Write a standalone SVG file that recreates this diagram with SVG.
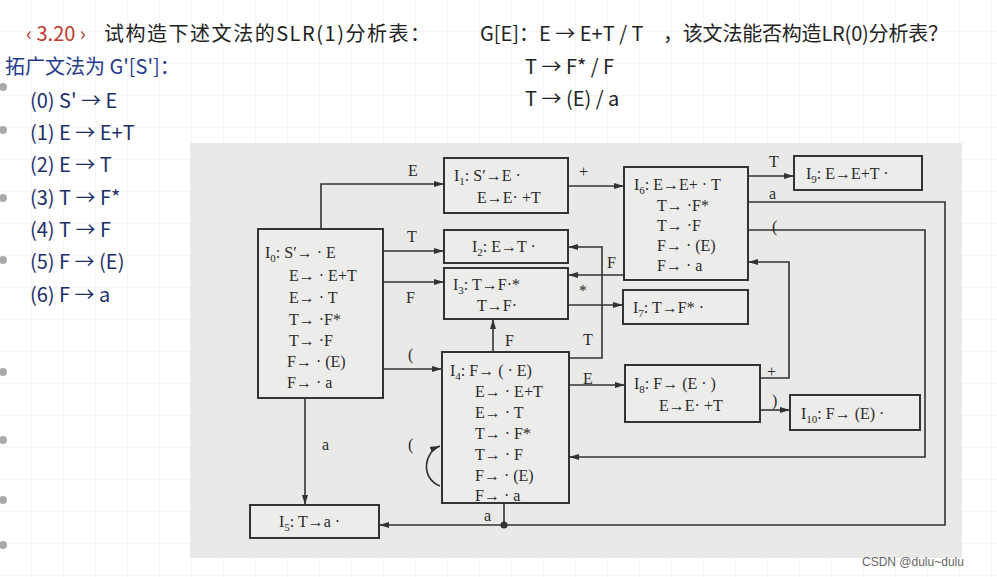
<svg xmlns="http://www.w3.org/2000/svg" width="997" height="577" viewBox="0 0 997 577">
<defs>
<pattern id="grid" width="32" height="32" patternUnits="userSpaceOnUse"><path d="M32 0V32M0 32H32" fill="none" stroke="#ececf0" stroke-width="1"/></pattern>
<marker id="ar" viewBox="0 0 10 6" refX="10" refY="3" markerWidth="10" markerHeight="6" orient="auto" markerUnits="userSpaceOnUse"><path d="M0 0L10 3L0 6Z" fill="#333"/></marker>
</defs>
<style>
.hw{font-family:"Noto Sans CJK SC","Noto Sans",sans-serif;font-size:20px}
.bx rect{fill:#ececea;stroke:#333;stroke-width:2}
.bx text,.lb{font-family:"Liberation Serif",serif;font-size:16px;fill:#2a2a2a}
.cn path{fill:none;stroke:#333;stroke-width:1.6}
</style>
<rect width="997" height="577" fill="#fff"/>
<rect width="997" height="577" fill="url(#grid)"/>
<g fill="#aaa"><circle cx="3" cy="87" r="4"/><circle cx="3" cy="130" r="4"/><circle cx="3" cy="198" r="4"/><circle cx="3" cy="260" r="4"/><circle cx="3" cy="372" r="4"/><circle cx="3" cy="440" r="4"/><circle cx="3" cy="500" r="4"/><circle cx="3" cy="545" r="4"/></g>
<text class="hw" x="26" y="41" fill="#c0392b" font-size="18">‹ 3.20 ›</text>
<text class="hw" x="104" y="41" fill="#222" textLength="326" lengthAdjust="spacing">试构造下述文法的SLR(1)分析表：</text>
<text class="hw" x="480" y="41" fill="#222">G[E]：E → E+T / T</text>
<text class="hw" x="663" y="41" fill="#222" textLength="285" lengthAdjust="spacing">，该文法能否构造LR(0)分析表？</text>
<text class="hw" x="5" y="74" fill="#1f3c8c">拓广文法为 G'[S']：</text>
<text class="hw" x="525" y="74" fill="#222">T → F* / F</text>
<text class="hw" x="525" y="106" fill="#222">T → (E) / a</text>
<g class="hw" fill="#1b2f6b">
<text x="30" y="108">(0)  S' → E</text>
<text x="30" y="140">(1)  E → E+T</text>
<text x="30" y="172">(2)  E → T</text>
<text x="30" y="205">(3)  T → F*</text>
<text x="30" y="237">(4)  T → F</text>
<text x="30" y="269">(5)  F → (E)</text>
<text x="30" y="302">(6)  F → a</text>
</g>
<rect x="190" y="143" width="772" height="415" fill="#e9e9e7"/>
<g id="connectors" class="cn">
<path d="M321 229V184H444" marker-end="url(#ar)"/>
<path d="M383 251H444" marker-end="url(#ar)"/>
<path d="M383 282H444" marker-end="url(#ar)"/>
<path d="M383 369H442" marker-end="url(#ar)"/>
<path d="M305 398V505" marker-end="url(#ar)"/>
<path d="M568 186H624" marker-end="url(#ar)"/>
<path d="M748 176H794" marker-end="url(#ar)"/>
<path d="M748 202H945V525H379" marker-end="url(#ar)"/>
<path d="M504 503V525"/>
<path d="M748 230H925V457H569" marker-end="url(#ar)"/>
<path d="M760 378H789V262H748" marker-end="url(#ar)"/>
<path d="M760 410H790" marker-end="url(#ar)"/>
<path d="M569 385H625" marker-end="url(#ar)"/>
<path d="M493 352V319" marker-end="url(#ar)"/>
<path d="M569 358H602V247H568" marker-end="url(#ar)"/>
<path d="M624 275H568" marker-end="url(#ar)"/>
<path d="M568 305H623" marker-end="url(#ar)"/>
<path d="M440 486C420 478 424 452 440 446" marker-end="url(#ar)"/>
</g>
<circle cx="504" cy="525" r="3.5" fill="#333"/>
<g class="lb">
<text x="408" y="176">E</text><text x="407" y="242">T</text><text x="406" y="303">F</text><text x="408" y="360">(</text>
<text x="322" y="450">a</text><text x="579" y="177">+</text><text x="769" y="167">T</text><text x="769" y="199">a</text>
<text x="772" y="232">(</text><text x="767" y="377">+</text><text x="772" y="406">)</text><text x="583" y="384">E</text>
<text x="505" y="346">F</text><text x="583" y="345">T</text><text x="607" y="268">F</text><text x="579" y="296">*</text>
<text x="408" y="450">(</text><text x="484" y="521">a</text>
</g>
<g id="I0" class="bx"><rect x="258" y="229" width="125" height="169"/>
<text x="265" y="258">I<tspan font-size="11" dy="4">0</tspan><tspan dy="-4">: S′→ · E</tspan></text>
<text x="289" y="281">E→ · E+T</text><text x="289" y="303">E→ · T</text><text x="289" y="325">T→ ·F*</text>
<text x="289" y="346">T→ ·F</text><text x="287" y="367">F→ · (E)</text><text x="287" y="388">F→ · a</text></g>
<g id="I1" class="bx"><rect x="444" y="158" width="124" height="55"/>
<text x="454" y="181">I<tspan font-size="11" dy="4">1</tspan><tspan dy="-4">: S′→E ·</tspan></text><text x="477" y="203">E→E· +T</text></g>
<g id="I2" class="bx"><rect x="444" y="230" width="124" height="33"/>
<text x="472" y="252">I<tspan font-size="11" dy="4">2</tspan><tspan dy="-4">: E→T ·</tspan></text></g>
<g id="I3" class="bx"><rect x="444" y="268" width="124" height="51"/>
<text x="453" y="290">I<tspan font-size="11" dy="4">3</tspan><tspan dy="-4">: T→F·*</tspan></text><text x="477" y="311">T→F·</text></g>
<g id="I4" class="bx"><rect x="442" y="352" width="127" height="151"/>
<text x="450" y="376">I<tspan font-size="11" dy="4">4</tspan><tspan dy="-4">: F→ ( · E)</tspan></text>
<text x="475" y="397">E→ · E+T</text><text x="475" y="418">E→ · T</text><text x="475" y="439">T→ · F*</text>
<text x="475" y="460">T→ · F</text><text x="475" y="481">F→ · (E)</text><text x="475" y="501">F→ · a</text></g>
<g id="I5" class="bx"><rect x="250" y="505" width="129" height="33"/>
<text x="279" y="527">I<tspan font-size="11" dy="4">5</tspan><tspan dy="-4">: T→a ·</tspan></text></g>
<g id="I6" class="bx"><rect x="624" y="167" width="124" height="113"/>
<text x="634" y="190">I<tspan font-size="11" dy="4">6</tspan><tspan dy="-4">: E→E+ · T</tspan></text>
<text x="657" y="211">T→ ·F*</text><text x="657" y="231">T→ ·F</text><text x="657" y="251">F→ · (E)</text><text x="657" y="271">F→ · a</text></g>
<g id="I7" class="bx"><rect x="623" y="290" width="125" height="34"/>
<text x="633" y="313">I<tspan font-size="11" dy="4">7</tspan><tspan dy="-4">: T→F* ·</tspan></text></g>
<g id="I8" class="bx"><rect x="625" y="365" width="135" height="57"/>
<text x="634" y="389">I<tspan font-size="11" dy="4">8</tspan><tspan dy="-4">: F→ (E · )</tspan></text><text x="659" y="411">E→E· +T</text></g>
<g id="I9" class="bx"><rect x="794" y="156" width="128" height="34"/>
<text x="806" y="179">I<tspan font-size="11" dy="4">9</tspan><tspan dy="-4">: E→E+T ·</tspan></text></g>
<g id="I10" class="bx"><rect x="790" y="395" width="130" height="35"/>
<text x="801" y="419">I<tspan font-size="11" dy="4">10</tspan><tspan dy="-4">: F→ (E) ·</tspan></text></g>
<text x="862" y="566" font-family="Liberation Sans,sans-serif" font-size="12" fill="#666">CSDN @dulu~dulu</text>
</svg>
